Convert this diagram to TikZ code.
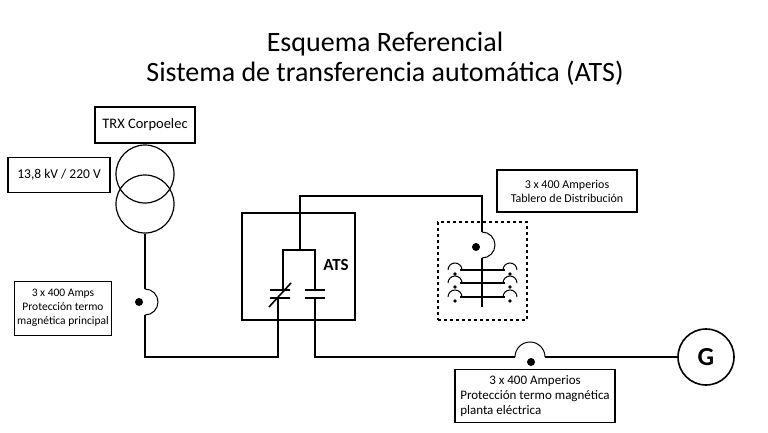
\documentclass[tikz,border=0pt]{standalone}
\usepackage{fontspec}
\setmainfont{Carlito}
\begin{document}
\begin{tikzpicture}[x=1pt,y=-1pt,
  wire/.style={line width=1.6pt},
  lbl/.style={draw,line width=1.2pt,align=center,inner sep=2pt,font=\fontsize{10}{12}\selectfont},
  brk/.style={line width=1pt},
  dot/.style={fill=black}]
\useasboundingbox (0,0) rectangle (768,433);
\node (t1) at (385,44) {\fontsize{28}{30}\selectfont Esquema Referencial};
\node (t2) at (385,73) {\fontsize{28}{30}\selectfont Sistema de transferencia automática (ATS)};
% labels
\node[lbl,minimum width=100pt,minimum height=36pt,font=\fontsize{14.5}{16}\selectfont] (trx) at (145,125) {TRX Corpoelec};
\node[lbl,minimum width=102pt,minimum height=35pt,font=\fontsize{13.5}{15}\selectfont] (kv) at (59,175) {13,8 kV / 220 V};
\node[lbl,line width=0.7pt,minimum width=97pt,minimum height=54pt,font=\fontsize{11.5}{14}\selectfont] (l1) at (63,308) {3 x 400 Amps\\Protección termo\\magnética principal};
\node[lbl,minimum width=140pt,minimum height=42pt,font=\fontsize{12}{14}\selectfont] (l2) at (567,191) {3 x 400 Amperios\\Tablero de Distribución};
\node[lbl,minimum width=160pt,minimum height=53pt,font=\fontsize{13}{15}\selectfont] (l3) at (535,396) {\begin{tabular}{@{}l@{}}\multicolumn{1}{@{}c@{}}{3 x 400 Amperios}\\Protección termo magnética\\planta eléctrica\end{tabular}};
% transformer
\node[draw,circle,line width=1.2pt,minimum size=58pt,inner sep=0] (c1) at (145,174) {};
\node[draw,circle,line width=1.2pt,minimum size=58pt,inner sep=0] (c2) at (145,204) {};
% ATS box
\node[draw,line width=1.6pt,minimum width=113pt,minimum height=107pt] (ats) at (298.5,266.5) {};
\node[font=\bfseries\fontsize{17}{19}\selectfont] (atst) at (336,265) {ATS};
% distribution box
\node[draw,dashed,line width=1.6pt,minimum width=89pt,minimum height=98pt] (db) at (482.5,271) {};
% generator
\node[draw,circle,line width=1.6pt,minimum size=56pt,inner sep=0] (g) at (706,357) {\bfseries\fontsize{26}{28}\selectfont G};
% coordinates
\coordinate (a) at (145,357); \coordinate (b) at (278,357);
\coordinate (sw1) at (278,298); \coordinate (sw1t) at (278,290);
\coordinate (sw2) at (315,298); \coordinate (sw2t) at (315,290);
\coordinate (ttop) at (300,196); \coordinate (tr) at (482,196);
% main wiring
\draw[wire] (c2.south) -- (145,289);
\draw[wire] (145,315) -- (a) -- (b) -- (sw1);
\draw[wire] (sw1t) -- (283,290) -- (283,250) -- (315,250) -- (sw2t);
\draw[wire] (300,250) -- (ttop) -- (tr) -- (482,232);
\draw[wire] (sw2) -- (315,357) -- (515,357);
\draw[wire] (545,357) -- (g.west);
% contacts
\draw[wire] (270,290) -- (290,290) (270,298) -- (290,298) (269,307) -- (291,283);
\draw[wire] (305,290) -- (325,290) (305,298) -- (325,298);
% main breaker
\draw[brk] (145,289) arc (-90:90:13);
\fill[dot] (139,302) circle (4);
% gen breaker
\draw[brk] (515,357) arc (180:360:15);
\fill[dot] (531,362) circle (4);
% db main breaker
\draw[brk] (482,232) arc (-90:90:13);
\fill[dot] (476,247) circle (4);
\draw[wire] (482,258) -- (482,307);
% feeders
\foreach \y in {270,283,297}{
  \draw[wire] (460,\y) -- (505,\y);
  \draw[brk] (448,\y) arc (180:360:7);
  \draw[brk] (503,\y) arc (180:360:7);
  \fill[dot] (455,\y+4) circle (1.8);
  \fill[dot] (510,\y+4) circle (1.8);
}
\end{tikzpicture}
\end{document}
